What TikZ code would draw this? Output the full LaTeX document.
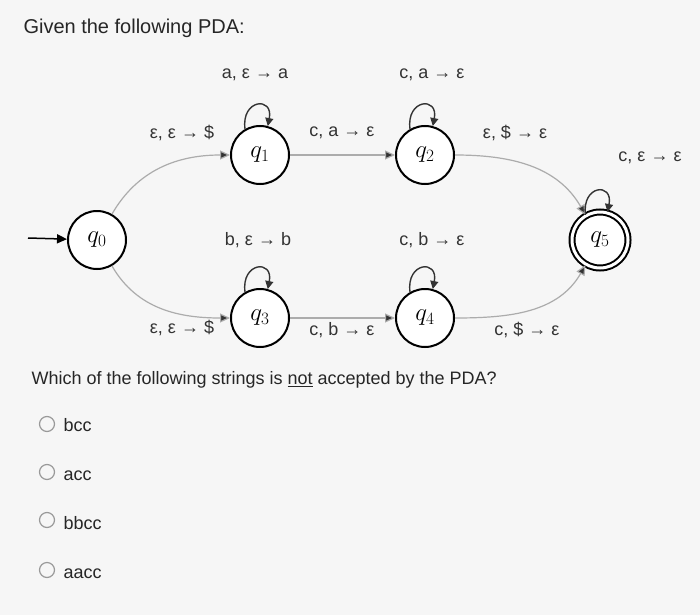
\documentclass[tikz,border=0pt]{standalone}
\usepackage{fontspec}
\setmainfont{Liberation Sans}
\usetikzlibrary{arrows.meta}
\begin{document}
\begin{tikzpicture}[x=1pt,y=-1pt,
  st/.style={circle,draw=black,line width=2pt,minimum size=58pt,fill=white,font=\fontsize{26}{30}\selectfont},
  tr/.style={draw=gray!65,line width=1.2pt,-{Triangle[length=10pt,width=9pt,fill=black!80]}},
  lp/.style={draw=black!80,line width=1.4pt,-{Triangle[length=8pt,width=8pt]}},
  lb/.style={font=\fontsize{18}{22}\selectfont,text=black!80},
  tx/.style={anchor=west,font=\fontsize{18}{22}\selectfont,text=black!85},
  opt/.style={circle,draw=gray!80,line width=1.2pt,minimum size=15pt,inner sep=0pt}]
\fill[gray!7] (0,0) rectangle (700,615);
\useasboundingbox (0,0) rectangle (700,615);
\node[tx,font=\fontsize{20}{24}\selectfont] (title) at (20,28) {Given the following PDA:};
\node[st] (q0) at (97,240) {$q_0$};
\node[st] (q1) at (260,155) {$q_1$};
\node[st] (q2) at (425,155) {$q_2$};
\node[st] (q3) at (260,318) {$q_3$};
\node[st] (q4) at (425,318) {$q_4$};
\node[st,double,double distance=3pt,minimum size=56pt] (q5) at (600,240) {$q_5$};
\coordinate (s) at (28,238);
\draw[line width=1.5pt,-{Triangle[length=10pt,width=9pt]}] (s) -- (q0);
\draw[tr] (q0) to[out=60,in=180] (q1);
\draw[tr] (q0) to[out=-60,in=180] (q3);
\draw[tr] (q1) -- (q2);
\draw[tr] (q3) -- (q4);
\draw[tr] (q2) to[out=0,in=120] (q5);
\draw[tr] (q4) to[out=0,in=-120] (q5);
\foreach \q in {q1,q2,q3,q4,q5}
  \draw[lp] (\q.120) .. controls +(-4,-30) and +(6,-30) .. (\q.75);
\node[lb] (l1) at (255,75) {a, ε → a};
\node[lb] (l2) at (432,75) {c, a → ε};
\node[lb] (l3) at (182,133) {ε, ε → \$};
\node[lb] (l4) at (342,133) {c, a → ε};
\node[lb] (l5) at (515,133) {ε, \$ → ε};
\node[lb] (l6) at (650,158) {c, ε → ε};
\node[lb] (l7) at (258,240) {b, ε → b};
\node[lb] (l8) at (432,240) {c, b → ε};
\node[lb] (l9) at (182,328) {ε, ε → \$};
\node[lb] (l10) at (342,330) {c, b → ε};
\node[lb] (l11) at (527,330) {c, \$ → ε};
\node[tx] (qq) at (28,380) {Which of the following strings is \underline{not} accepted by the PDA?};
\node[opt] (o1) at (47,424) {}; \node[tx] (t1) at (60,425) {bcc};
\node[opt] (o2) at (47,472) {}; \node[tx] (t2) at (60,476) {acc};
\node[opt] (o3) at (47,520) {}; \node[tx] (t3) at (60,523) {bbcc};
\node[opt] (o4) at (47,570) {}; \node[tx] (t4) at (60,574) {aacc};
\end{tikzpicture}
\end{document}
